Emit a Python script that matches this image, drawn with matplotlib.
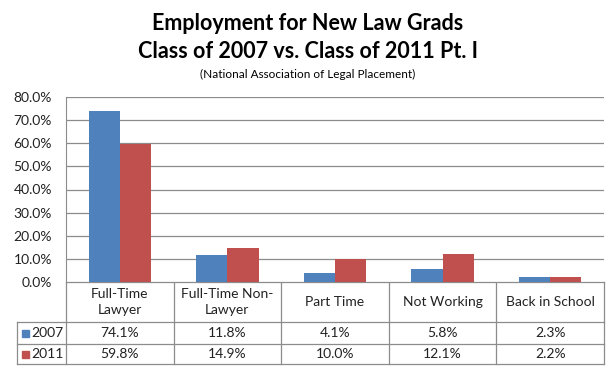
import matplotlib
matplotlib.use("Agg")
import matplotlib.pyplot as plt
import numpy as np

categories = ["Full-Time\nLawyer", "Full-Time Non-\nLawyer", "Part Time", "Not Working", "Back in School"]
series_names = ["2007", "2011"]
values_2007 = [74.1, 11.8, 4.1, 5.8, 2.3]
values_2011 = [59.8, 14.9, 10.0, 12.1, 2.2]
yticks = [0, 10, 20, 30, 40, 50, 60, 70, 80]

colors = ["#4F81BD", "#C0504D"]
FONT = "Lato"
plt.rcParams['font.family'] = [FONT, 'DejaVu Sans']

W, H = 615, 368
fig = plt.figure(figsize=(W / 100, H / 100), dpi=100)

def fx(px):
    return px / W

def fy(py):
    return 1 - py / H

# plot area in pixels
L, R, T, B = 66, 604, 97, 282
ax = fig.add_axes([fx(L), fy(B), fx(R - L), (B - T) / H])
n = len(categories)
x = np.arange(n)
bw = 0.29
ax.bar(x - bw / 2, values_2007, bw, color=colors[0], zorder=3)
ax.bar(x + bw / 2, values_2011, bw, color=colors[1], zorder=3)
ax.set_xlim(-0.5, n - 0.5)
ax.set_ylim(0, 80)
ax.set_yticks(yticks)
ax.set_yticklabels([f"{v:.1f}%" for v in yticks], fontsize=10, color="#222222")
ax.tick_params(axis='y', length=0, pad=10)
ax.set_xticks([])
ax.grid(axis='y', color="#8C8C8C", linewidth=0.9, zorder=0)
for s in ["top", "right", "bottom"]:
    ax.spines[s].set_visible(False)
ax.spines["left"].set_color("#8C8C8C")

# table
tab = fig.add_axes([0, 0, 1, 1], zorder=-1)
tab.set_xlim(0, W)
tab.set_ylim(H, 0)
tab.axis("off")
lc = "#8C8C8C"
lw = 0.9
col_edges = np.linspace(L, R, n + 1)
y_hdr, y_r1, y_r2, y_r3 = B, 322, 344, 364
TL = 17
for cx in col_edges:
    tab.plot([cx, cx], [y_hdr, y_r3], color=lc, lw=lw)
tab.plot([TL, TL], [y_r1, y_r3], color=lc, lw=lw)
tab.plot([L, R], [y_hdr, y_hdr], color=lc, lw=lw)
for yy in (y_r1, y_r2, y_r3):
    tab.plot([TL, R], [yy, yy], color=lc, lw=lw)
for i, c in enumerate(categories):
    cx = (col_edges[i] + col_edges[i + 1]) / 2
    tab.text(cx, (y_hdr + y_r1) / 2, c, ha="center", va="center", fontsize=10,
             linespacing=1.35, color="#222222")
rows = [values_2007, values_2011]
row_y = [(y_r1 + y_r2) / 2, (y_r2 + y_r3) / 2]
for r, vals in enumerate(rows):
    for i, v in enumerate(vals):
        cx = (col_edges[i] + col_edges[i + 1]) / 2
        tab.text(cx, row_y[r], f"{v:.1f}%", ha="center", va="center", fontsize=10, color="#222222")
    tab.add_patch(plt.Rectangle((22, row_y[r] - 3.5), 7, 7, color=colors[r]))
    tab.text(31, row_y[r], series_names[r], ha="left", va="center", fontsize=10, color="#222222")

fig.text(0.5, fy(24), "Employment for New Law Grads", ha="center", va="center",
         fontsize=15.5, fontweight="bold")
fig.text(0.5, fy(51), "Class of 2007 vs. Class of 2011 Pt. I", ha="center", va="center",
         fontsize=15.5, fontweight="bold")
fig.text(0.5, fy(74), "(National Association of Legal Placement)", ha="center", va="center",
         fontsize=8.5)

fig.savefig("out.png", dpi=100, facecolor="white")
